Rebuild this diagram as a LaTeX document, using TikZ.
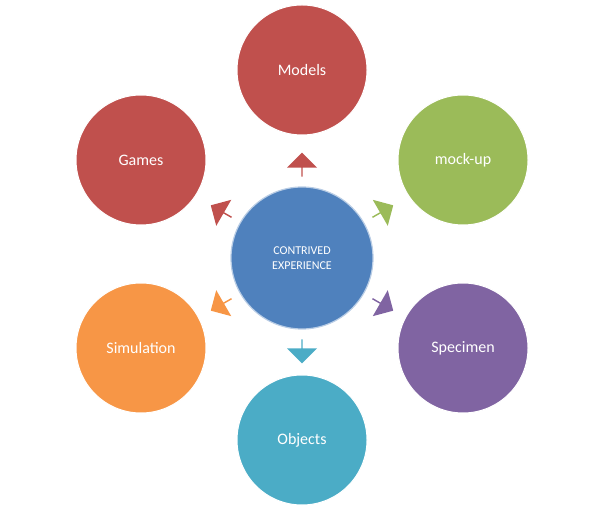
\documentclass[tikz,border=0pt]{standalone}
\usepackage{fontspec}
\setmainfont{Carlito}
\usetikzlibrary{shapes.arrows,calc}
\definecolor{cred}{HTML}{C0504D}
\definecolor{cgreen}{HTML}{9BBB59}
\definecolor{cpurple}{HTML}{8064A2}
\definecolor{cteal}{HTML}{4BACC6}
\definecolor{corange}{HTML}{F79646}
\definecolor{cblue}{HTML}{4F81BD}
\begin{document}
\begin{tikzpicture}[x=1pt,y=1pt,
  sat/.style={circle,minimum size=130pt,inner sep=0pt,draw=white,line width=1pt,text=white,font=\fontsize{16}{18}\selectfont},
  arr/.style={single arrow,minimum height=24pt,minimum width=30pt,single arrow head extend=4pt,inner sep=0pt,draw=none}]
\useasboundingbox (0,0) rectangle (604,511);
\node[circle,minimum size=142pt,inner sep=0pt,fill=cblue,draw=cblue!40!white,line width=1.2pt,text=white,align=center,font=\fontsize{12}{15}\selectfont] (c) at (302,253) {CONTRIVED\\EXPERIENCE};
\node[sat,fill=cred] (models) at (302,441) {Models};
\node[sat,fill=cgreen] (mock) at (463,351) {mock-up};
\node[sat,fill=cpurple] (spec) at (463,163) {Specimen};
\node[sat,fill=cteal] (obj) at (302,71) {Objects};
\node[sat,fill=corange] (sim) at (141,163) {Simulation};
\node[sat,fill=cred] (games) at (141,351) {Games};
\foreach \n/\a/\col in {a1/90/cred,a2/30/cgreen,a3/-30/cpurple,a4/-90/cteal,a5/210/corange,a6/150/cred}
  \node[arr,fill=\col,rotate=\a] (\n) at ($(c)+(\a:93)$) {};
\end{tikzpicture}
\end{document}
